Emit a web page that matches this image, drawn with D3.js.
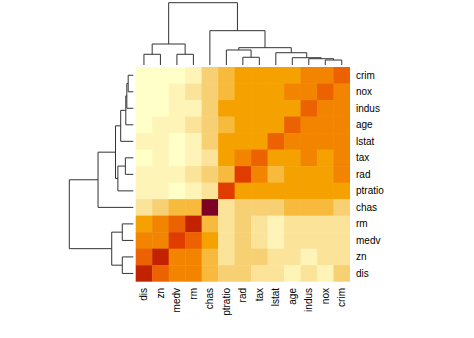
<!DOCTYPE html>
<html><head><meta charset="utf-8">
<script src="https://cdn.jsdelivr.net/npm/d3@7"></script>
<style>html,body{margin:0;padding:0;background:#fff;}svg{display:block;}</style>
</head><body>
<script>
// Column order (left to right) and row order (top to bottom)
const colLabels = ["dis","zn","medv","rm","chas","ptratio","rad","tax","lstat","age","indus","nox","crim"];
const rowLabels = ["crim","nox","indus","age","lstat","tax","rad","ptratio","chas","rm","medv","zn","dis"];

// Colour level of each cell (0 = lowest, 11 = highest), rows x columns as above
const rowCrim    = [0,0,0,1,3,4,5,5,5,5,6,6,7];
const rowNox     = [0,0,1,2,3,4,5,5,5,6,6,7,6];
const rowIndus   = [0,0,1,1,3,5,5,5,5,5,7,6,6];
const rowAge     = [0,1,1,2,3,4,5,5,5,7,6,6,6];
const rowLstat   = [1,1,0,1,3,5,5,5,7,6,6,6,6];
const rowTax     = [0,1,0,1,2,5,6,7,5,5,6,5,6];
const rowRad     = [1,1,1,2,3,4,8,6,4,5,5,5,6];
const rowPtratio = [1,1,0,1,2,8,5,5,5,5,5,5,5];
const rowChas    = [2,3,4,4,11,2,3,3,3,4,4,4,3];
const rowRm      = [5,6,7,9,4,2,3,2,1,2,2,2,2];
const rowMedv    = [6,6,8,7,5,2,3,2,1,2,2,2,2];
const rowZn      = [7,9,6,6,4,2,3,3,2,2,1,2,2];
const rowDis     = [9,7,6,6,4,3,3,2,2,1,2,1,3];
const levels = [rowCrim,rowNox,rowIndus,rowAge,rowLstat,rowTax,rowRad,rowPtratio,rowChas,rowRm,rowMedv,rowZn,rowDis];

// Dendrogram merges (child a, child b, height relative to root)
const merges = [
  ["nox","crim",0.080],
  ["indus","m1",0.101],
  ["age","m2",0.117],
  ["rad","tax",0.124],
  ["dis","zn",0.172],
  ["medv","rm",0.172],
  ["lstat","m3",0.197],
  ["ptratio","m4",0.241],
  ["m8","m7",0.278],
  ["m5","m6",0.337],
  ["chas","m9",0.551],
  ["m10","m11",1.0]
];

// R hcl() (polar LUV) -> sRGB, used for hcl.colors(12, "YlOrRd", rev = TRUE)
function hclR(h, c, l) {
  const hr = h * Math.PI / 180;
  const U = c * Math.cos(hr), V = c * Math.sin(hr);
  const Xn = 95.047, Yn = 100, Zn = 108.883;
  const Y = Yn * (l > 7.999592 ? Math.pow((l + 16) / 116, 3) : l / 903.3);
  const den = Xn + 15 * Yn + 3 * Zn;
  const un = 4 * Xn / den, vn = 9 * Yn / den;
  const u = U / (13 * l) + un, v = V / (13 * l) + vn;
  const X = 9 * Y * u / (4 * v);
  const Z = -X / 3 - 5 * Y + 3 * Y / v;
  const x = X / 100, y = Y / 100, z = Z / 100;
  const lin = [
    3.240479 * x - 1.537150 * y - 0.498535 * z,
    -0.969256 * x + 1.875992 * y + 0.041556 * z,
    0.055648 * x - 0.204043 * y + 1.057311 * z
  ];
  const g = lin.map(t => {
    let s = t <= 0.0031308 ? 12.92 * t : 1.055 * Math.pow(Math.max(t, 0), 1 / 2.4) - 0.055;
    return Math.round(Math.max(0, Math.min(1, s)) * 255);
  });
  return d3.rgb(g[0], g[1], g[2]).formatHex();
}
function ylOrRd(n) {
  const h1 = 5, h2 = 85, c1 = 75, c2 = 40, l1 = 25, l2 = 99, p1 = 1.6, p2 = 1.3, cmax = 180;
  const j = 1 / (1 + Math.abs(cmax - c1) / Math.abs(cmax - c2));
  const out = [];
  for (let k = 0; k < n; k++) {
    const i = k / (n - 1);
    const ip = Math.pow(i, p1);
    const C = ip < j ? c2 + (cmax - c2) * ip / j : cmax - (cmax - c1) * (ip - j) / (1 - j);
    out.push(hclR(h2 - (h2 - h1) * i, C, l2 - (l2 - l1) * Math.pow(i, p2)));
  }
  return out; // light -> dark
}
const palette = ylOrRd(12);

const W = 474, H = 338;
const svg = d3.select("body").append("svg").attr("width", W).attr("height", H);

const hx0 = 135.7, hx1 = 350, hy0 = 67, hy1 = 281.7;
const x = d3.scaleBand().domain(colLabels).range([hx0, hx1]);
const y = d3.scaleBand().domain(rowLabels).range([hy0, hy1]);
const color = d3.scaleOrdinal().domain(d3.range(12)).range(palette);

// cells
const cells = [];
levels.forEach((row, ri) => row.forEach((v, ci) => cells.push({r: rowLabels[ri], c: colLabels[ci], v})));
svg.append("g").selectAll("rect").data(cells).join("rect")
  .attr("x", d => x(d.c)).attr("y", d => y(d.r))
  .attr("width", d => x.bandwidth() + (d.c === colLabels[colLabels.length - 1] ? 0 : 0.4))
  .attr("height", d => y.bandwidth() + (d.r === rowLabels[rowLabels.length - 1] ? 0 : 0.4))
  .attr("fill", d => color(d.v));

// dendrogram geometry
function buildDendro(posOf) {
  const nodes = {};
  const info = name => nodes[name] || {pos: posOf(name), h: 0};
  const segs = [];
  merges.forEach((m, k) => {
    const a = info(m[0]), b = info(m[1]);
    segs.push({a, b, h: m[2]});
    nodes["m" + (k + 1)] = {pos: (a.pos + b.pos) / 2, h: m[2]};
  });
  return segs;
}
const lineCol = "#333";
// top (column) dendrogram
const hTop = d3.scaleLinear().domain([0, 1]).range([65, 2.7]);
const topSegs = buildDendro(n => x(n) + x.bandwidth() / 2);
const gTop = svg.append("g").attr("fill", "none").attr("stroke", lineCol).attr("stroke-width", 1);
topSegs.forEach(s => {
  gTop.append("path").attr("d", d3.line()([
    [s.a.pos, hTop(s.a.h)], [s.a.pos, hTop(s.h)], [s.b.pos, hTop(s.h)], [s.b.pos, hTop(s.b.h)]
  ]));
});
// left (row) dendrogram
const hLeft = d3.scaleLinear().domain([0, 1]).range([133.3, 69.3]);
const leftSegs = buildDendro(n => y(n) + y.bandwidth() / 2);
const gLeft = svg.append("g").attr("fill", "none").attr("stroke", lineCol).attr("stroke-width", 1);
leftSegs.forEach(s => {
  gLeft.append("path").attr("d", d3.line()([
    [hLeft(s.a.h), s.a.pos], [hLeft(s.h), s.a.pos], [hLeft(s.h), s.b.pos], [hLeft(s.b.h), s.b.pos]
  ]));
});

// labels
const font = "'Liberation Sans', Arial, Helvetica, sans-serif";
svg.append("g").selectAll("text").data(rowLabels).join("text")
  .attr("x", 356).attr("y", d => y(d) + y.bandwidth() / 2).attr("dy", "0.35em")
  .attr("font-family", font).attr("font-size", 10).attr("fill", "#000")
  .text(d => d);
svg.append("g").selectAll("text").data(colLabels).join("text")
  .attr("transform", d => `translate(${x(d) + x.bandwidth() / 2},288) rotate(-90)`)
  .attr("dy", "0.35em").attr("text-anchor", "end")
  .attr("font-family", font).attr("font-size", 10).attr("fill", "#000")
  .text(d => d);
</script>
</body></html>
